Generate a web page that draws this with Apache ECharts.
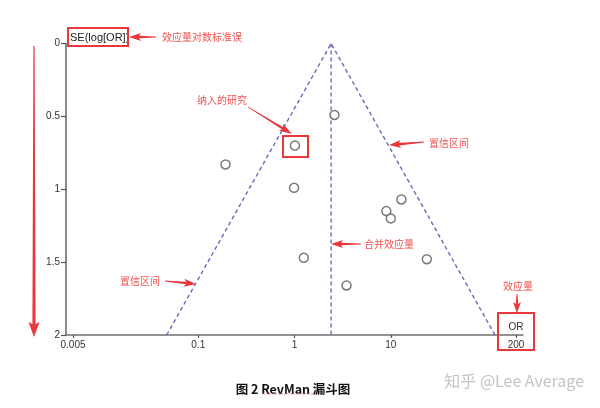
<!DOCTYPE html>
<html>
<head>
<meta charset="utf-8">
<script src="https://cdn.jsdelivr.net/npm/echarts@6/dist/echarts.min.js"></script>
<style>
html,body{margin:0;padding:0;background:#fff;}
#chart{width:600px;height:408px;}
</style>
</head>
<body>
<div id="chart"></div>
<script>
// ---- data ----
const studyOR = [2.6, 1.01, 0.192, 0.99, 12.9, 9.0, 10.0, 1.25, 23.7, 3.47];
const studySE = [0.49, 0.70, 0.83, 0.99, 1.07, 1.15, 1.20, 1.47, 1.48, 1.66];
const pooledOR = 2.4;
const funnelSEMax = 2;
const funnelLowerOR = 0.047;   // left CI limit at SE = 2
const funnelUpperOR = 121;     // right CI limit at SE = 2
const xTickLabels = ['0.005', '0.1', '1', '10', '200'];
const yTickLabels = ['0', '0.5', '1', '1.5', '2'];

// ---- build ----
const lg = v => Math.log10(v);
const xTickVals = xTickLabels.map(s => lg(parseFloat(s)));
const scatterData = studyOR.map((o, i) => [lg(o), studySE[i]]);
const funnelData = [[lg(funnelLowerOR), funnelSEMax], [lg(pooledOR), 0], [lg(funnelUpperOR), funnelSEMax]];
const pooledData = [[lg(pooledOR), 0], [lg(pooledOR), funnelSEMax]];

const RED = '#e8383d';
const RED_TXT = '#ef5350';
const CJK = '"Noto Sans CJK SC", sans-serif';

function arrow(x0, y0, x1, y1, opt) {
  opt = opt || {};
  const headLen = opt.headLen || 10, headW = opt.headW || 4, shaftW = opt.shaftW || 1.3, tailW = opt.tailW || 0.4;
  const dx = x1 - x0, dy = y1 - y0, L = Math.sqrt(dx * dx + dy * dy);
  const ux = dx / L, uy = dy / L, nx = -uy, ny = ux;
  const hx = x1 - ux * headLen, hy = y1 - uy * headLen;
  return {
    type: 'polygon',
    shape: { points: [
      [x0 + nx * tailW, y0 + ny * tailW],
      [hx + nx * shaftW, hy + ny * shaftW],
      [hx + nx * headW - ux * 2, hy + ny * headW - uy * 2],
      [x1, y1],
      [hx - nx * headW - ux * 2, hy - ny * headW - uy * 2],
      [hx - nx * shaftW, hy - ny * shaftW],
      [x0 - nx * tailW, y0 - ny * tailW]
    ] },
    style: { fill: RED },
    z: 100
  };
}
function box(x, y, w, h) {
  return { type: 'rect', shape: { x: x, y: y, width: w, height: h }, style: { fill: 'none', stroke: RED, lineWidth: 2 }, z: 100 };
}
function note(x, y, text, align) {
  return { type: 'text', x: x, y: y, style: { text: text, fill: RED_TXT, font: '10px ' + CJK, align: align || 'left', verticalAlign: 'middle' }, z: 100 };
}

const chart = echarts.init(document.getElementById('chart'));
chart.setOption({
  animation: false,
  backgroundColor: '#fff',
  grid: { left: 66, right: 77, top: 43.5, bottom: 73, containLabel: false },
  xAxis: {
    type: 'value',
    min: -2.374, max: 2.374,
    name: 'OR',
    nameLocation: 'end',
    nameGap: -7,
    nameTextStyle: { color: '#333', fontSize: 10, fontFamily: 'Liberation Sans', align: 'center', verticalAlign: 'bottom', padding: [0, 0, 3, 0] },
    splitLine: { show: false },
    axisLine: { show: true, onZero: false, lineStyle: { color: '#6f6f6f', width: 1.6 } },
    axisTick: { show: true, length: 3, customValues: xTickVals, lineStyle: { color: '#555', width: 1.2 } },
    axisLabel: {
      customValues: xTickVals,
      margin: 5,
      color: '#333', fontSize: 10, fontFamily: 'Liberation Sans',
      formatter: function (v) {
        let best = 0, d = 1e9;
        xTickVals.forEach((t, i) => { if (Math.abs(t - v) < d) { d = Math.abs(t - v); best = i; } });
        return xTickLabels[best];
      }
    }
  },
  yAxis: {
    type: 'value',
    inverse: true,
    min: 0, max: 2, interval: 0.5,
    name: 'SE(log[OR])',
    nameLocation: 'start',
    nameGap: 6,
    nameTextStyle: { color: '#222', fontSize: 11, fontFamily: 'Liberation Sans', align: 'left', verticalAlign: 'middle', padding: [0, 0, 0, 4] },
    splitLine: { show: false },
    axisLine: { show: true, onZero: false, lineStyle: { color: '#6f6f6f', width: 1.6 } },
    axisTick: { show: true, length: 5, lineStyle: { color: '#555', width: 1.2 } },
    axisLabel: {
      margin: 6, color: '#333', fontSize: 10, fontFamily: 'Liberation Sans',
      formatter: function (v) { return yTickLabels[Math.round(v / 0.5)]; }
    }
  },
  series: [
    {
      type: 'line', data: funnelData, symbol: 'none', silent: true,
      lineStyle: { color: '#6a6ab8', width: 1.4, type: [4, 3] }, z: 2
    },
    {
      type: 'line', data: pooledData, symbol: 'none', silent: true,
      lineStyle: { color: '#6a6ab8', width: 1.4, type: [4, 3] }, z: 2
    },
    {
      type: 'scatter', data: scatterData, symbol: 'circle', symbolSize: 9,
      itemStyle: { color: '#fff', borderColor: '#5a5a5a', borderWidth: 1.5 }, z: 3
    }
  ],
  graphic: [
    // axis name boxes
    box(68, 28, 60, 18),
    arrow(156, 37, 129, 37),
    note(162, 37, '效应量对数标准误'),
    // included study
    note(197, 100, '纳入的研究'),
    arrow(248, 107, 292, 134, { headLen: 11 }),
    box(283, 136, 25, 21),
    // CI right
    arrow(424, 142, 389, 145),
    note(429, 143, '置信区间'),
    // CI left
    note(120, 281, '置信区间'),
    arrow(165, 281, 196, 284),
    // pooled effect
    arrow(361, 244, 331, 244),
    note(364, 244, '合并效应量'),
    // effect size
    note(503, 286, '效应量'),
    arrow(517, 294, 517, 313, { headLen: 9 }),
    box(498, 313, 36, 37),
    // big left arrow
    arrow(34, 46, 34, 337, { headLen: 13, headW: 5.5, shaftW: 1.6, tailW: 0.6 }),
    // caption
    { type: 'text', x: 293, y: 389, style: { text: '图 2 RevMan 漏斗图', fill: '#111', font: 'bold 12.5px ' + CJK, align: 'center', verticalAlign: 'middle' } },
    { type: 'line', shape: { x1: 263, y1: 394, x2: 313, y2: 394 }, style: { stroke: '#e89aa0', lineWidth: 1, lineDash: [2, 1] } },
    // watermark
    { type: 'text', x: 584, y: 381, style: { text: '知乎 @Lee Average', fill: '#c4c4c4', font: '16px ' + CJK, align: 'right', verticalAlign: 'middle' } }
  ]
});
</script>
</body>
</html>
